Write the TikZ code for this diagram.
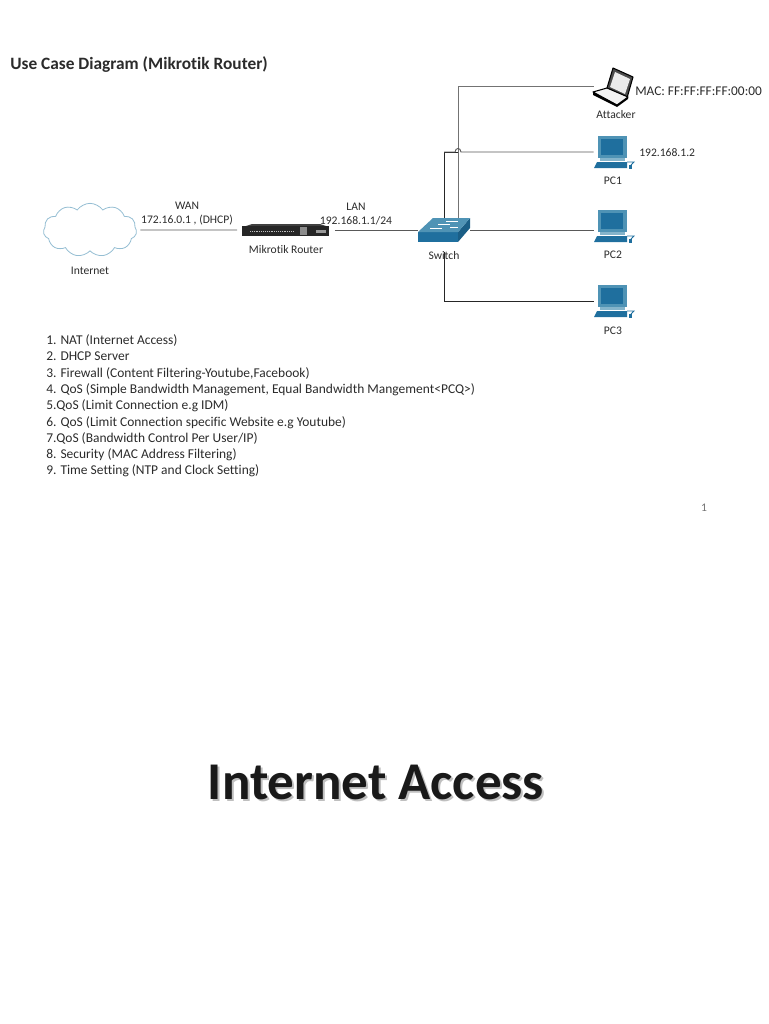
\documentclass[tikz,border=0pt]{standalone}
\usepackage{fontspec}
\setmainfont{Carlito}[Ligatures=CommonOff]
\usetikzlibrary{shapes.symbols}

\definecolor{devblue}{HTML}{1F6F9E}
\definecolor{devlight}{HTML}{4F93B5}
\definecolor{txtgray}{HTML}{2B2B2B}

\tikzset{
  pcicon/.pic={
    \fill[devlight] (-14,-16) rectangle (15,6);
    \fill[devblue] (-11,-13) rectangle (11,3);
    \fill[devlight!70] (-12,6) rectangle (13,9);
    \fill[devblue] (-18,16) -- (-15,10) -- (15,10) -- (15,16) -- cycle;
    \draw[devblue,semithick] (15,10) -- (22,10) -- (19,13);
    \fill[devblue] (17,13) rectangle (20,17);
  },
  laptopicon/.pic={
    \draw[black,thick,fill=black!70,line join=round] (1,-18) -- (21,-9) -- (15,12) -- (-5,2) -- cycle;
    \fill[black!8] (3,-14) -- (18,-7) -- (13,8) -- (-2,1) -- cycle;
    \draw[black,thick,fill=black!5,line join=round] (-19,6) -- (-5,2) -- (16,11) -- (5,19) -- cycle;
    \fill[black] (-19,6) -- (5,19) -- (16,11) -- (16,13) -- (5,21) -- (-19,9) -- cycle;
  },
  switchicon/.pic={
    \fill[devblue] (-26,2) rectangle (14,12);
    \fill[devblue!85!black] (14,2) -- (26,-12) -- (26,-2) -- (14,12) -- cycle;
    \fill[devlight] (-26,2) -- (-11,-12) -- (26,-12) -- (14,2) -- cycle;
    \draw[white,semithick] (-14,-2) -- (-2,-2) (-6,-6) -- (6,-6) (2,-9) -- (14,-9) (6,-3) -- (14,-3);
  },
  routericon/.pic={
    \fill[black!75] (-40,-4) -- (-34,-6) -- (34,-6) -- (40,-4) -- cycle;
    \fill[black!85] (-44,-4) rectangle (43,6);
    \draw[white!75!black,densely dotted] (-36,1) -- (8,1);
    \fill[black!45] (14,-3) rectangle (21,5);
    \fill[black!40] (30,0) rectangle (40,3);
  }
}

\begin{document}
\begin{tikzpicture}[x=0.75pt,y=-0.75pt,font=\fontsize{8.7}{10}\selectfont,text=txtgray,
        every node/.style={inner sep=0pt},
        line/.style={black!65,line width=0.7pt}]

  \useasboundingbox (0,0) rectangle (768,1024);

  \node at (10,65) [anchor=west,font=\fontsize{13}{15}\selectfont\bfseries] (title) {Use Case Diagram (Mikrotik Router)};

  % devices
  \node at (90,230) [cloud,cloud puffs=11,cloud puff arc=110,aspect=1.8,draw=devlight!60,semithick,fill=white,minimum width=70pt,minimum height=40pt,outer sep=3pt] (Internet) {};
  \node at (286,230) [minimum width=73pt,minimum height=10pt] (Router) {};
  \node at (444,230) [minimum width=39pt,minimum height=18pt] (Switch) {};
  \node at (612,86) [minimum width=27pt,minimum height=30pt] (Attacker) {};
  \node at (612,152) [minimum width=27pt,minimum height=25pt] (PC1) {};
  \node at (612,226) [minimum width=27pt,minimum height=25pt] (PC2) {};
  \node at (612,301) [minimum width=27pt,minimum height=25pt] (PC3) {};
  \coordinate (hop) at (458,152);
  \coordinate (SwitchTop) at (458,218);

  \pic at (Router) {routericon};
  \pic at (Switch) {switchicon};
  \pic at (Attacker) {laptopicon};
  \pic at (PC1) {pcicon};
  \pic at (PC2) {pcicon};
  \pic at (PC3) {pcicon};

  % labels
  \node at (90,271) (InternetLabel) {Internet};
  \node at (286,250) (RouterLabel) {Mikrotik Router};
  \node at (444,256) (SwitchLabel) {Switch};
  \node at (616,115) (AttackerLabel) {Attacker};
  \node at (613,181) (PC1Label) {PC1};
  \node at (613,255) (PC2Label) {PC2};
  \node at (613,331) (PC3Label) {PC3};
  \node at (187,206) (WANLabel) {WAN};
  \node at (187,220) (WANAddr) {172.16.0.1 , (DHCP)};
  \node at (356,207) (LANLabel) {LAN};
  \node at (356,221) (LANAddr) {192.168.1.1/24};
  \node at (635,91) [anchor=west,font=\fontsize{10}{12}\selectfont] (MACLabel) {MAC: FF:FF:FF:FF:00:00};
  \node at (639,153) [anchor=west] (PC1Addr) {192.168.1.2};

  % connectors
  \draw[line] (Internet.east) -- (Router.west);
  \draw[line] (Router.east) -- (Switch.west);
  \draw[line] (Switch.east) -- (Switch.east -| PC2.west);
  \draw[line,black!55] (SwitchTop) |- (Attacker.west);
  \draw[line,black!85] (Switch.north) |- (hop);
  \draw[line] (PC1.west) -- ([xshift=2.2pt]hop) .. controls ([xshift=2.2pt,yshift=3.5pt]hop) and ([xshift=-2.2pt,yshift=3.5pt]hop) .. ([xshift=-2.2pt]hop) -- (hop -| Switch.north);
  \draw[line,black!85] (SwitchLabel.north) |- (PC3.west);

  % feature list
  \node at (46,406) [anchor=west,align=left,font=\fontsize{10.1}{12.2}\selectfont] (features) {1. NAT (Internet Access)\\
    2. DHCP Server\\
    3. Firewall (Content Filtering-Youtube,Facebook)\\
    4. QoS (Simple Bandwidth Management, Equal Bandwidth Mangement<PCQ>)\\
    5.QoS (Limit Connection e.g IDM)\\
    6. QoS (Limit Connection specific Website e.g Youtube)\\
    7.QoS (Bandwidth Control Per User/IP)\\
    8. Security (MAC Address Filtering)\\
    9. Time Setting (NTP and Clock Setting)};

  \node at (704,508) [text=black!55] (pagenum) {1};

  \node at (378,784) [text=black!25,font=\fontsize{39.8}{42}\selectfont\bfseries] (headingshadow) {Internet Access};
  \node at (376,782) [text=black!90,font=\fontsize{39.8}{42}\selectfont\bfseries] (heading) {Internet Access};

\end{tikzpicture}
\end{document}
